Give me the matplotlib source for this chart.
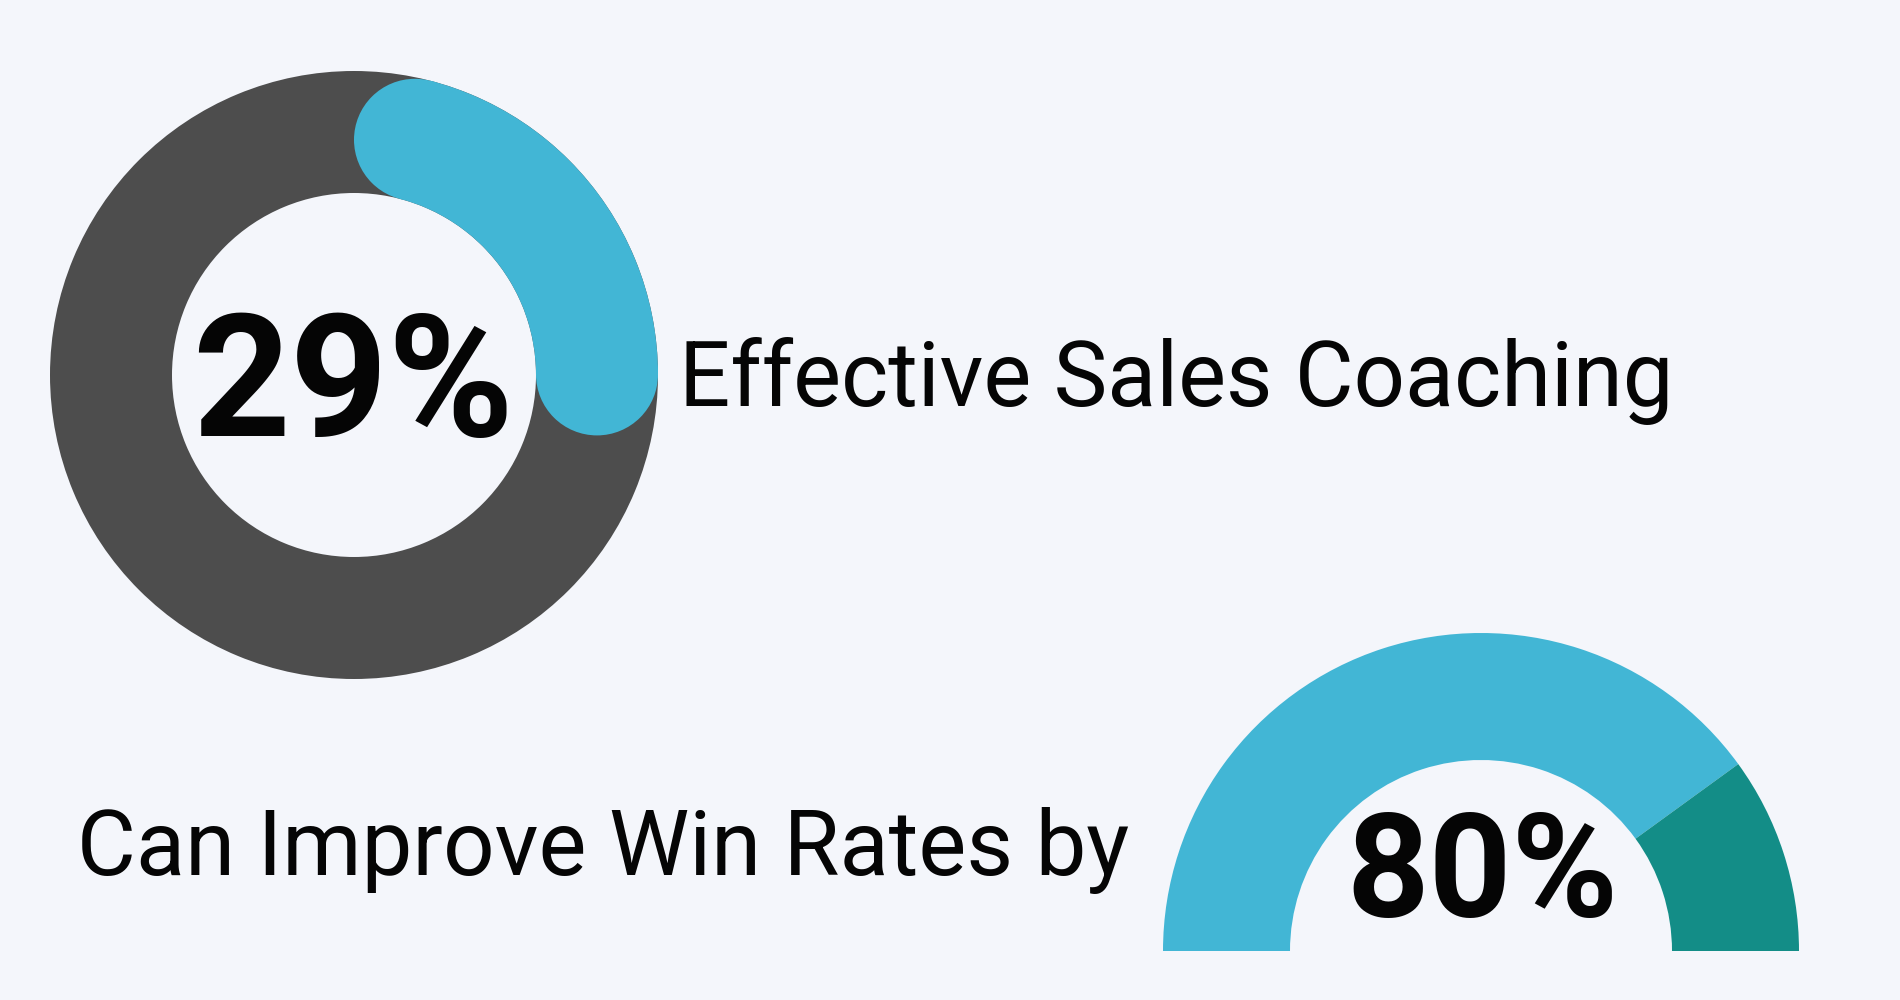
import numpy as np
import matplotlib
matplotlib.use("Agg")
import matplotlib.pyplot as plt
from matplotlib.patches import Wedge, Circle

# ---- data ----
coaching_pct = 29          # donut value (% of full circle)
winrate_pct = 80           # gauge value (% of half circle)
donut_label = "Effective Sales Coaching"
gauge_label = "Can Improve Win Rates by"

# ---- style ----
BG = "#f4f6fb"
DARK = "#4d4d4d"
BLUE = "#42b6d5"
TEAL = "#138d87"
W, H, DPI = 1900, 1000, 100
PT = 72 / DPI  # px -> pt

fig = plt.figure(figsize=(W / DPI, H / DPI), dpi=DPI, facecolor=BG)
ax = fig.add_axes([0, 0, 1, 1])
ax.set_xlim(0, W)
ax.set_ylim(H, 0)
ax.axis("off")
ax.set_facecolor(BG)

# ---- donut ----
dcx, dcy, dR, dr = 354, 375, 304, 182
dw = dR - dr
ax.add_patch(Wedge((dcx, dcy), dR, 0, 360, width=dw, facecolor=DARK, edgecolor="none"))
# blue arc with rounded caps, total visual span = value share of 360 deg, starting at 12 o'clock
mid = (dR + dr) / 2
cap = dw / 2
cap_deg = np.degrees(np.arcsin(cap / mid))
span = coaching_pct / 100 * 360
start_vis = 90
end_vis = 90 - span
a1 = start_vis - cap_deg   # centerline start (screen angle)
a2 = end_vis + cap_deg
# y axis inverted: screen angle a maps to data angle -a
ax.add_patch(Wedge((dcx, dcy), dR, -a1, -a2, width=dw, facecolor=BLUE, edgecolor="none"))
for a in (a1, a2):
    t = np.radians(a)
    ax.add_patch(Circle((dcx + mid * np.cos(t), dcy - mid * np.sin(t)), cap,
                        facecolor=BLUE, edgecolor="none"))

# ---- gauge ----
gcx, gcy, gR, gr = 1481, 951, 318, 191
split = 180 - winrate_pct / 100 * 180
ax.add_patch(Wedge((gcx, gcy), gR, -180, -split, width=gR - gr, facecolor=BLUE, edgecolor="none"))
ax.add_patch(Wedge((gcx, gcy), gR, -split, 0, width=gR - gr, facecolor=TEAL, edgecolor="none"))

# ---- text ----
renderer = fig.canvas.get_renderer()

def fit_text(x, y, s, target_w, size_px, weight, ha):
    t = ax.text(x, y, s, fontsize=size_px * PT, fontfamily="Roboto", fontweight=weight,
                ha=ha, va="baseline", color="#050505")
    bb = t.get_window_extent(renderer)
    t.set_fontsize(size_px * PT * target_w / bb.width)
    return t

fit_text(353, 436, f"{coaching_pct}%", 322, 180, "bold", "center")
fit_text(1482, 917, f"{winrate_pct}%", 272, 155, "bold", "center")
fit_text(679, 406, donut_label, 994, 89, "normal", "left")
fit_text(77, 875, gauge_label, 1052, 91, "normal", "left")

fig.savefig("out.png", dpi=DPI, facecolor=BG)
